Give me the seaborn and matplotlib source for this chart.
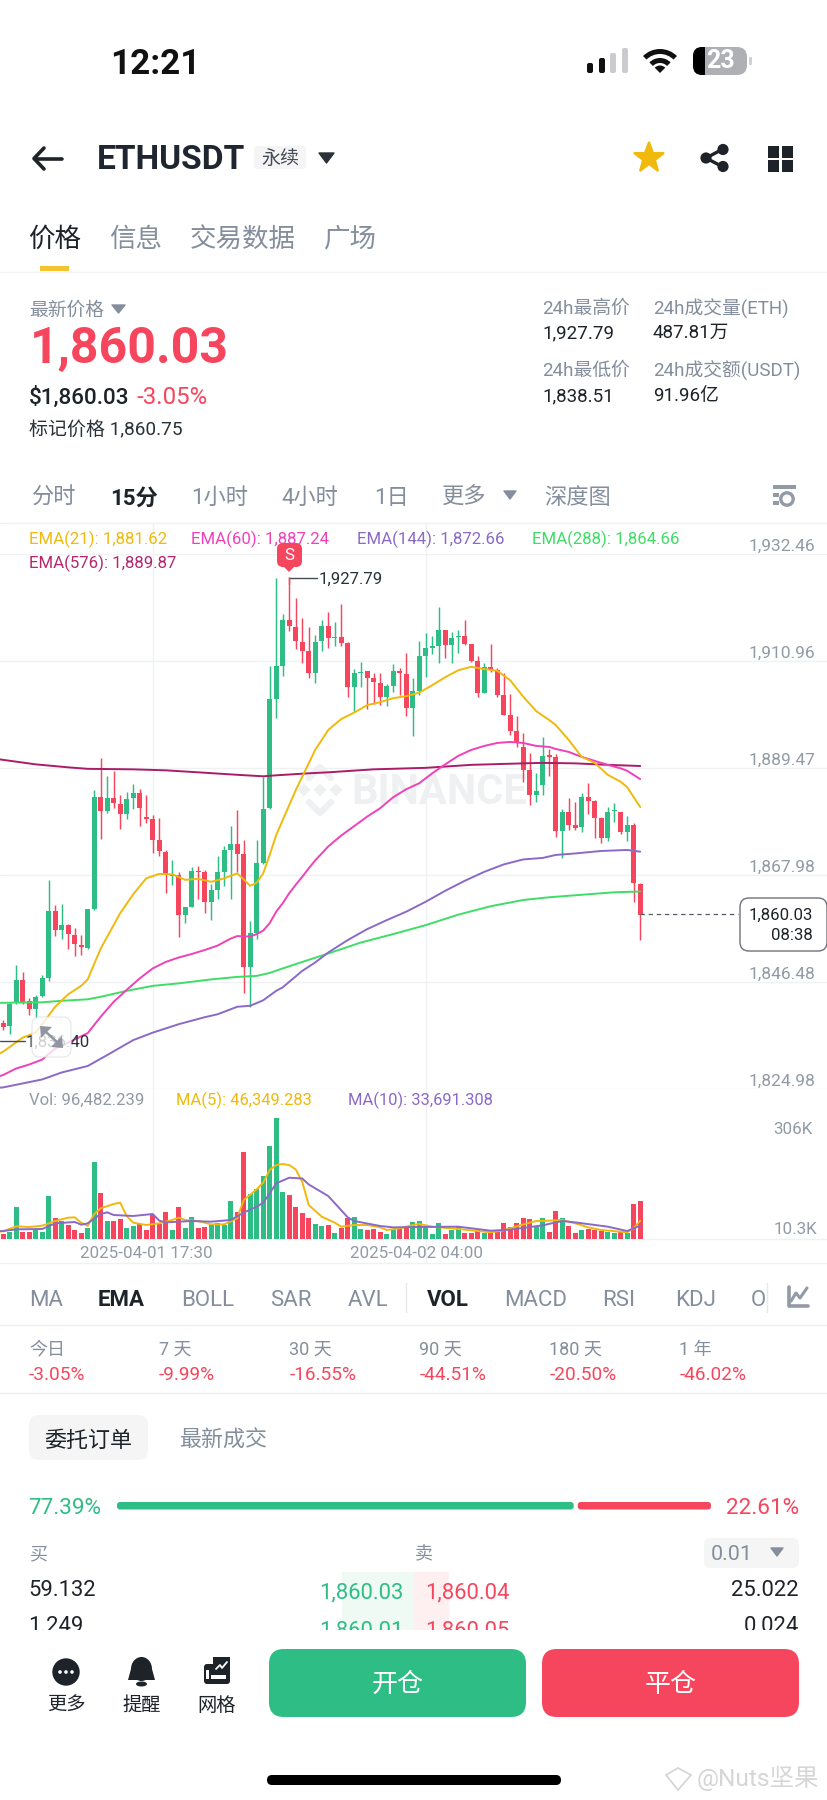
"""
ETHUSDT perpetual 15m chart screen, candles with EMA lines, volume pane and app chrome.
"""

import matplotlib
matplotlib.use("Agg")
import matplotlib.pyplot as plt
from matplotlib.patches import Circle, Ellipse, FancyBboxPatch, Polygon, Rectangle, Wedge
import pandas as pd
import seaborn as sns

W, H = 828, 1800

GREEN = "#2EBD85"
RED = "#F6465D"
DARK = "#1E2329"
GRAY = "#848E9C"
AXIS_GRAY = "#929AA5"
GRID = "#EFF1F3"

# 15 minute candles
opens = [1838.3, 1837.6, 1842.5, 1846.9, 1842.6, 1841.0, 1843.6, 1847.2, 1860.8, 1856.9,
         1857.9, 1855.9, 1854.0, 1853.4, 1861.1, 1883.7, 1880.8, 1883.4, 1882.3, 1880.3,
         1883.4, 1884.5, 1879.6, 1879.2, 1875.0, 1872.5, 1867.8, 1868.0, 1859.9, 1861.6,
         1868.8, 1868.6, 1862.6, 1865.0, 1868.6, 1873.0, 1874.3, 1872.2, 1849.4, 1856.3,
         1870.3, 1881.5, 1903.3, 1910.0, 1919.3, 1917.7, 1914.8, 1913.0, 1908.5, 1915.0,
         1917.9, 1915.6, 1915.8, 1914.5, 1905.8, 1908.6, 1909.0, 1907.5, 1906.6, 1903.8,
         1906.0, 1909.0, 1908.3, 1901.6, 1904.9, 1912.0, 1913.5, 1914.0, 1917.2, 1914.2,
         1915.7, 1916.0, 1914.4, 1911.0, 1904.5, 1909.8, 1909.2, 1904.1, 1900.1, 1896.9,
         1893.7, 1889.1, 1884.0, 1886.0, 1892.1, 1891.7, 1876.9, 1880.7, 1878.0, 1877.7,
         1883.6, 1882.9, 1879.5, 1875.5, 1880.8, 1880.6, 1876.7, 1878.1, 1866.1]
highs = [1838.8, 1842.5, 1849.9, 1848.5, 1843.2, 1843.9, 1847.9, 1867.0, 1862.0, 1862.1,
         1858.1, 1857.3, 1855.9, 1861.1, 1885.0, 1891.4, 1887.8, 1888.9, 1884.0, 1884.7,
         1886.2, 1885.2, 1884.0, 1880.0, 1879.4, 1872.9, 1871.0, 1868.6, 1861.6, 1869.6,
         1869.8, 1869.0, 1866.1, 1871.8, 1873.7, 1877.8, 1881.0, 1875.0, 1858.7, 1875.0,
         1887.7, 1910.0, 1927.6, 1920.5, 1927.79, 1923.6, 1919.7, 1917.7, 1916.2, 1919.3,
         1920.9, 1918.7, 1922.4, 1914.8, 1909.3, 1910.7, 1909.0, 1908.5, 1908.5, 1906.3,
         1910.4, 1909.6, 1912.5, 1907.5, 1915.0, 1916.5, 1916.0, 1921.9, 1917.2, 1916.7,
         1917.1, 1919.2, 1914.4, 1912.0, 1910.5, 1914.3, 1909.5, 1908.5, 1904.3, 1899.9,
         1896.4, 1892.4, 1888.4, 1895.7, 1893.2, 1892.3, 1881.2, 1883.4, 1882.7, 1884.5,
         1886.4, 1883.0, 1879.7, 1881.7, 1882.4, 1880.7, 1879.8, 1878.5, 1866.4]
lows = [1836.8, 1836.1, 1842.0, 1842.0, 1839.8, 1839.2, 1843.4, 1846.7, 1855.7, 1855.1,
        1853.2, 1851.6, 1851.8, 1853.2, 1860.9, 1875.2, 1880.4, 1881.5, 1877.2, 1879.2,
        1881.3, 1877.8, 1878.4, 1872.3, 1871.7, 1864.3, 1866.0, 1855.6, 1858.3, 1861.5,
        1863.1, 1860.3, 1858.9, 1863.1, 1865.8, 1863.1, 1868.6, 1844.2, 1841.4, 1855.2,
        1870.2, 1881.3, 1899.6, 1907.9, 1916.9, 1913.3, 1910.6, 1907.5, 1906.6, 1913.0,
        1913.6, 1914.0, 1914.0, 1903.8, 1900.8, 1905.8, 1901.4, 1902.4, 1902.1, 1902.0,
        1904.7, 1904.1, 1900.0, 1895.9, 1904.1, 1907.8, 1912.4, 1910.6, 1911.6, 1910.6,
        1912.5, 1914.2, 1910.8, 1903.8, 1904.5, 1908.8, 1903.8, 1900.1, 1896.1, 1893.6,
        1886.7, 1882.0, 1882.7, 1884.0, 1887.9, 1875.7, 1871.4, 1877.1, 1877.1, 1876.7,
        1880.3, 1875.5, 1874.5, 1874.9, 1878.7, 1876.2, 1874.8, 1862.6, 1855.0]
closes = [1837.5, 1842.0, 1846.9, 1842.5, 1841.0, 1843.5, 1847.2, 1860.8, 1856.9, 1857.9,
          1856.1, 1854.1, 1853.5, 1861.1, 1883.7, 1880.8, 1883.4, 1882.5, 1880.3, 1883.3,
          1884.4, 1881.4, 1879.2, 1875.0, 1872.7, 1868.2, 1868.2, 1859.9, 1861.5, 1868.8,
          1868.6, 1862.6, 1865.0, 1868.6, 1873.0, 1874.3, 1872.2, 1849.4, 1856.3, 1870.3,
          1881.3, 1903.3, 1910.0, 1919.3, 1917.9, 1915.0, 1913.0, 1908.5, 1914.8, 1917.9,
          1915.6, 1915.8, 1914.5, 1905.8, 1908.5, 1908.8, 1907.6, 1906.7, 1903.8, 1906.0,
          1909.0, 1908.5, 1901.6, 1904.9, 1912.0, 1913.5, 1914.0, 1917.2, 1914.2, 1915.5,
          1916.0, 1914.4, 1911.0, 1904.5, 1909.8, 1909.2, 1904.1, 1900.1, 1896.9, 1894.4,
          1889.1, 1884.0, 1884.9, 1891.9, 1891.7, 1876.9, 1880.7, 1878.1, 1877.5, 1883.6,
          1882.9, 1879.5, 1875.5, 1880.7, 1881.0, 1876.7, 1878.1, 1866.3, 1860.03]

volumes = [12.6, 18.5, 81.8, 16.9, 16.9, 22.8, 18.5, 110, 53, 45.5,
           34.6, 22.8, 16, 28.7, 195.6, 117, 45.5, 46.4, 49.7, 28.7,
           32, 38, 22.8, 60.7, 38, 69, 23.6, 80, 28.7, 56.5,
           28.7, 30.3, 34.6, 41.3, 35.4, 97, 68.3, 220, 113, 126.5,
           160, 235, 305.2, 118, 111, 81.8, 65.8, 53, 38, 32,
           35.4, 16, 28.7, 52.3, 54.8, 24.4, 21.9, 25.3, 18.5, 12.6,
           24.4, 31.2, 27, 43.8, 45.5, 29.5, 11.8, 39.6, 12.6, 22.8,
           29.5, 16, 16, 22.8, 16, 18.5, 16.9, 41.3, 31.2, 40.5,
           54, 50.6, 32.9, 52.3, 18.5, 70.8, 52.3, 32.9, 16, 22.8,
           25.3, 22.8, 20.2, 18.5, 16, 16.9, 16, 88.5, 96.5]

# the lines run on past the left edge of the chart, hence index -1
ema21_idx = [-1, 0, 3, 5, 6, 8, 10, 12, 13, 15, 18, 20, 22, 24, 26, 28, 30, 32, 34, 36, 37, 38, 39, 40, 41, 42,
             43, 44, 45, 46, 48, 50, 52, 54, 56, 58, 60, 62, 64, 66, 68, 70, 72, 74, 76, 78, 80, 82, 84,
             85, 87, 89, 91, 93, 95, 96, 98]
ema21 = [1831.8, 1832.5, 1835.3, 1836.3, 1838.0, 1841.5, 1844.0, 1845.7, 1847.0, 1853.2, 1860.3, 1864.1, 1867.3,
         1868.2, 1868.1, 1867.0, 1867.2, 1866.6, 1867.3, 1868.3, 1867.1, 1865.8, 1866.4, 1868.3, 1872.0, 1876.0,
         1879.0, 1882.0, 1885.0, 1887.7, 1893.1, 1897.1, 1899.3, 1900.6, 1902.1, 1902.7, 1903.5, 1903.9, 1904.6,
         1906.1, 1907.7, 1909.1, 1909.8, 1909.35, 1909.0, 1907.1, 1903.8, 1900.9, 1899.1,
         1898.1, 1895.1, 1891.7, 1890.5, 1888.1, 1886.7, 1885.6, 1881.62]

ema60_idx = [-1, 0, 2, 4, 6, 8, 10, 13, 15, 17, 19, 21, 23, 25, 27, 29, 31, 33, 35, 36, 38, 39, 40, 41, 42,
             43, 44, 45, 46, 47, 48, 50, 52, 54, 56, 58, 60, 62, 64, 66, 68, 70, 72, 74, 76, 78, 80, 82, 84,
             85, 87, 89, 91, 93, 95, 96, 98]
ema60 = [1827.4, 1827.8, 1829.1, 1829.9, 1830.9, 1833.1, 1834.3, 1836.2, 1839.5, 1842.5, 1844.9, 1847.2, 1849.2,
         1850.5, 1851.4, 1852.1, 1852.9, 1853.8, 1855.2, 1855.7, 1855.6, 1856.1, 1856.8, 1858.3, 1860.6,
         1862.3, 1864.3, 1866.0, 1867.6, 1869.3, 1870.9, 1873.7, 1875.9, 1877.8, 1879.7, 1881.4, 1883.6, 1885.2,
         1886.4, 1888.4, 1890.2, 1891.9, 1893.1, 1893.9, 1894.5, 1894.7, 1894.5, 1893.9, 1893.7,
         1893.3, 1892.7, 1891.7, 1890.9, 1890.1, 1889.4, 1888.9, 1887.24]

ema144_idx = [-1, 0, 3, 6, 9, 13, 16, 20, 23, 27, 31, 33, 36, 38, 40, 42, 43, 44, 46, 48, 50, 53, 56, 59, 62, 65,
              68, 71, 74, 77, 80, 83, 85, 88, 92, 96, 98]
ema144 = [1825.2, 1825.3, 1826.1, 1826.9, 1828.3, 1829.6, 1831.8, 1834.8, 1836.3, 1838.0, 1839.4, 1840.0, 1841.5,
          1841.7, 1842.8, 1844.7, 1845.4, 1846.5, 1848.7, 1850.4, 1852.4, 1854.9, 1857.1, 1858.9, 1860.6, 1862.6,
          1864.8, 1866.8, 1868.6, 1870.1, 1871.1, 1871.4, 1872.0, 1872.3, 1872.8, 1873.0, 1872.66]

ema288_idx = [-1, 0, 6, 9, 13, 15, 19, 23, 27, 32, 36, 39, 41, 43, 46, 50, 55, 60, 65, 70, 75, 80, 84, 86, 90, 94, 98]
ema288 = [1842.3, 1842.3, 1842.4, 1842.7, 1843.0, 1843.5, 1844.7, 1845.7, 1846.2, 1847.0, 1847.5, 1847.7, 1848.3,
          1849.2, 1850.5, 1852.2, 1854.4, 1856.1, 1857.9, 1860.0, 1861.7, 1862.95, 1863.5, 1863.7, 1864.1, 1864.5,
          1864.66]

ema576_idx = [-1, 0, 5, 10, 13, 20, 25, 30, 36, 40, 42, 47, 50, 57, 65, 72, 80, 83, 88, 93, 98]
ema576 = [1891.3, 1891.1, 1890.2, 1889.6, 1889.3, 1889.2, 1889.0, 1888.6, 1888.1, 1887.8, 1888.0, 1888.4, 1888.6,
          1889.2, 1889.5, 1890.1, 1890.4, 1890.5, 1890.4, 1890.1, 1889.87]

ma5_idx = [-1, 0, 2, 4, 6, 8, 10, 11, 12, 13, 14, 15, 17, 18, 19, 20, 22, 24, 26, 27, 28, 30, 32, 34, 36, 37, 39,
           40, 41, 42, 43, 44, 45, 46, 47, 49, 51, 52, 54, 56, 58, 59, 61, 63, 64, 66, 70, 75, 77, 80, 82, 84,
           86, 88, 90, 92, 96, 97, 98]
ma5 = [18.5, 19.4, 32, 30.3, 33.7, 45.5, 54, 54.8, 41.3, 32.9, 63.2, 77.6, 88.5, 91.9, 58.2, 41.3, 35.4, 39.6, 48,
       54, 48, 45.5, 37, 37, 52.3, 98.6, 125.6, 142.5, 174.5, 187, 189.7, 187, 176, 145, 86, 56.5, 41.3, 31.2,
       35.4, 35.4, 29.5, 22.8, 27, 35.4, 37.9, 31.2, 25.3, 16.9, 21.9, 37, 45.5, 46.4, 48, 39.6, 29.5, 22.8,
       16.9, 27, 46.35]

ma10_idx = [-1, 0, 2, 6, 8, 11, 12, 13, 15, 16, 17, 20, 23, 24, 25, 29, 32, 35, 37, 39, 40, 41, 42, 44, 46, 47, 50,
            53, 54, 58, 60, 64, 70, 75, 78, 83, 86, 88, 93, 96, 98]
ma10 = [19.5, 20.2, 24.4, 25.3, 39.6, 43, 36.2, 39.6, 63.2, 67.4, 60.7, 58.2, 63.2, 46.4, 42, 45.5, 43.8, 48, 66.6,
        81.8, 91.9, 115.5, 140.8, 155, 153, 138, 108.7, 54.8, 45.5, 32.9, 29.5, 30.3, 31.2, 21, 23.6, 34.6,
        45.5, 42, 31.2, 20.2, 33.69]

price_ticks = [1932.46, 1910.96, 1889.47, 1867.98, 1846.48, 1824.98]
time_ticks = [23, 65]
time_labels = ["2025-04-01 17:30", "2025-04-02 04:00"]
bid_share, ask_share = 77.39, 22.61

period_names = ["今日", "7 天", "30 天", "90 天", "180 天", "1 年"]
period_changes = ["-3.05%", "-9.99%", "-16.55%", "-44.51%", "-20.50%", "-46.02%"]

sns.set_theme(style="white")
plt.rcParams["font.family"] = ["Roboto", "Noto Sans CJK SC", "DejaVu Sans"]

fig = plt.figure(figsize=(W / 100, H / 100), dpi=100, facecolor="white")


def px_axes(x0, y0, x1, y1, zorder):
    ax = fig.add_axes([x0 / W, 1 - y1 / H, (x1 - x0) / W, (y1 - y0) / H], zorder=zorder)
    ax.patch.set_visible(False)
    for side in ax.spines.values():
        side.set_visible(False)
    return ax


# candle index <-> pixel: one candle every 6.5 px
x_limits = ((0 - 3.2) / 6.5, (W - 3.2) / 6.5)

ax_bg = px_axes(0, 523, W, 1263, -1)
ui = px_axes(0, 0, W, H, 0)
ax_price = px_axes(0, 554, W, 1089, 1)
ax_vol = px_axes(0, 1118, W, 1239, 1)
over = px_axes(0, 0, W, H, 5)
for a in (ui, over):
    a.set_xlim(0, W)
    a.set_ylim(H, 0)
    a.axis("off")


def txt(x, y, s, size, color=DARK, ha="left", weight="normal", ax=None, z=4, **kw):
    return (ax or ui).text(x, y, s, fontsize=size * 0.72, color=color, ha=ha, va="center",
                           fontweight=weight, zorder=z, **kw)


def rbox(x0, y0, x1, y1, r, color, ax=None, z=1, **kw):
    p = FancyBboxPatch((x0 + r, y0 + r), x1 - x0 - 2 * r, y1 - y0 - 2 * r,
                       boxstyle=f"round,pad={r},rounding_size={r}", fc=color, ec=kw.pop("ec", "none"),
                       zorder=z, **kw)
    (ax or ui).add_patch(p)
    return p


def caret(x0, x1, y0, y1, color, ax=None):
    (ax or ui).add_patch(Polygon([(x0, y0), (x1, y0), ((x0 + x1) / 2, y1)], closed=True, fc=color, ec=color,
                                 lw=1, joinstyle="round", zorder=3))


# --- chart background grid
ax_bg.set_xlim(*x_limits)
ax_bg.set_ylim(0, 1)
ax_bg.set_yticks([])
ax_bg.set_xticks(time_ticks)
ax_bg.set_xticklabels([])
ax_bg.tick_params(axis="x", length=0)
ax_bg.grid(axis="x", color=GRID, lw=1)
ax_bg.set_axisbelow(True)
txt(80, 1254, time_labels[0], 17, AXIS_GRAY)
txt(350, 1254, time_labels[1], 17, AXIS_GRAY)

# --- candles
df = pd.DataFrame({"i": range(len(closes)), "open": opens, "high": highs, "low": lows, "close": closes,
                   "vol": volumes})
df["side"] = ["up" if c >= o else "down" for o, c in zip(df["open"], df["close"])]
palette = {"up": GREEN, "down": RED}
colors = df["side"].map(palette)

ax_price.vlines(df["i"], df["low"], df["high"], colors=colors, lw=1.05, zorder=2)
ax_price.bar(df["i"], (df["close"] - df["open"]).abs().clip(lower=0.25),
             bottom=df[["open", "close"]].min(axis=1), width=0.72, color=colors, linewidth=0, zorder=2)

ema_lines = [(ema576_idx, ema576, "#A91C68"), (ema288_idx, ema288, "#3FDD66"), (ema144_idx, ema144, "#8B69C7"),
             (ema60_idx, ema60, "#F041B8"), (ema21_idx, ema21, "#F0B90B")]
for idx, vals, col in ema_lines:
    sns.lineplot(x=idx, y=vals, color=col, linewidth=1.4, ax=ax_price, zorder=3, errorbar=None)

ax_price.set_xlim(*x_limits)
ax_price.set_ylim(price_ticks[-1], price_ticks[0])
ax_price.set_xticks([])
ax_price.set_xlabel("")
ax_price.yaxis.tick_right()
ax_price.set_yticks(price_ticks)
ax_price.set_yticklabels([f"{p:,.2f}" for p in price_ticks], fontsize=17.4 * 0.72, color=AXIS_GRAY)
ax_price.tick_params(axis="y", length=0, pad=-9.4)
for lab in ax_price.get_yticklabels():
    lab.set_horizontalalignment("right")
    lab.set_verticalalignment("bottom")
ax_price.grid(axis="y", color=GRID, lw=1)
ax_price.set_axisbelow(True)

# --- volume pane
sns.barplot(data=df, x="i", y="vol", hue="side", palette=palette, native_scale=True, dodge=False, width=0.72,
            legend=False, saturation=1, linewidth=0, ax=ax_vol)
sns.lineplot(x=ma5_idx, y=ma5, color="#F0B90B", linewidth=1.4, ax=ax_vol, zorder=3, errorbar=None)
sns.lineplot(x=ma10_idx, y=ma10, color="#8B69C7", linewidth=1.4, ax=ax_vol, zorder=3, errorbar=None)
ax_vol.set_xlim(*x_limits)
ax_vol.set_ylim(0, 306)
ax_vol.set_xticks([])
ax_vol.set_yticks([])
ax_vol.set_xlabel("")
ax_vol.set_ylabel("")
ui.plot([0, W], [1239, 1239], color=GRID, lw=1, zorder=0)

# --- status bar
txt(155.5, 64, "12:21", 35, "#111111", ha="center", weight="bold")
for x0, top, col in [(587, 63, "#111111"), (599, 58, "#111111"), (610, 53, "#C9CBCF"), (622, 48, "#C9CBCF")]:
    rbox(x0, top, x0 + 6, 73, 2, col)
for r, w in [(24, 5), (15, 5)]:
    ui.add_patch(Wedge((660, 73), r, 225, 315, width=w, fc="#111111", ec="none"))
ui.add_patch(Wedge((660, 73), 7.5, 225, 315, fc="#111111", ec="none"))
rbox(693, 47, 747, 75, 10, "#AEB0B4")
rbox(693, 47, 712, 75, 9, "#000000", z=1.1)
ui.add_patch(Rectangle((705, 47), 10, 28, fc="#AEB0B4", ec="none", zorder=1.2))
rbox(749, 57, 752, 65, 1, "#D0D1D4")
txt(721, 61, "23", 25, "white", ha="center", weight="bold")

# --- header
ui.plot([44, 34, 44], [148, 158.5, 169], color=DARK, lw=2.6, solid_capstyle="round", solid_joinstyle="round")
ui.plot([35, 62], [158.5, 158.5], color=DARK, lw=2.6, solid_capstyle="round")
txt(97, 160, "ETHUSDT", 33.5, "#202630", weight="bold")
rbox(254, 146, 306, 169, 4, "#F5F5F5")
txt(280, 159, "永续", 19, "#474D57", ha="center")
caret(319, 334, 153, 163, "#2B3139")
ui.plot(649, 158, marker="*", ms=22.5, color="#F0B90B", mec="#F0B90B", mew=1.5, zorder=3)
ui.plot([723, 706, 723], [149, 158, 167], color=DARK, lw=2.4)
for cx, cy in [(723, 149.5), (706, 158), (723, 166.5)]:
    ui.add_patch(Circle((cx, cy), 5.6, fc=DARK, ec="none", zorder=3))
for x0 in (768, 782):
    for y0 in (146, 160):
        ui.add_patch(Rectangle((x0, y0), 11.5, 11.5, fc="#1E2329", ec="none"))

# --- main tabs
txt(28, 239, "价格", 26.5, "#1E2329", weight="medium")
txt(109, 239, "信息", 26.5, GRAY)
txt(190, 239, "交易数据", 26.5, GRAY)
txt(324, 239, "广场", 26.5, GRAY)
ui.add_patch(Rectangle((40, 266), 29, 5, fc="#F5C32F", ec="none", zorder=2))
ui.plot([0, W], [271.5, 271.5], color="#F3F4F5", lw=1)

# --- price block
txt(29, 311, "最新价格", 18.8, GRAY)
caret(112, 125, 305, 313, GRAY)
txt(30, 350, "1,860.03", 50, RED, weight="bold")
txt(29, 398, "$1,860.03", 22.5, DARK, weight="medium")
txt(137, 398, "-3.05%", 24, RED)
txt(29, 430, "标记价格 1,860.75", 19, "#2B3139")
txt(542, 309, "24h最高价", 18.8, GRAY)
txt(653, 309, "24h成交量(ETH)", 18.8, GRAY)
txt(542, 333, "1,927.79", 18.8, DARK)
txt(653, 333, "487.81万", 18.8, DARK)
txt(542, 371, "24h最低价", 18.8, GRAY)
txt(653, 371, "24h成交额(USDT)", 18.8, GRAY)
txt(542, 396, "1,838.51", 18.8, DARK)
txt(653, 396, "91.96亿", 18.8, DARK)

# --- interval tabs
for x0, s, col, wt in [(31, "分时", GRAY, "normal"), (110, "15分", DARK, "bold"), (191, "1小时", GRAY, "normal"),
                       (281, "4小时", GRAY, "normal"), (374, "1日", GRAY, "normal"), (442, "更多", GRAY, "normal"),
                       (544, "深度图", GRAY, "normal")]:
    txt(x0, 498.5, s, 22.3, col, weight=wt)
caret(504, 516, 491, 499, GRAY)
ui.add_patch(Rectangle((773, 485), 23, 4, fc=AXIS_GRAY, ec="none"))
ui.add_patch(Rectangle((773, 493), 6, 4, fc=AXIS_GRAY, ec="none"))
ui.add_patch(Rectangle((773, 501), 6, 4, fc=AXIS_GRAY, ec="none"))
ui.add_patch(Circle((787, 499), 6.2, fc="white", ec=AXIS_GRAY, lw=2.4))
ui.plot([0, W], [523, 523], color=GRID, lw=1)

# --- chart legends
txt(29, 539, "EMA(21): 1,881.62", 16.8, "#F0B90B")
txt(191, 539, "EMA(60): 1,887.24", 16.8, "#F041B8")
txt(357, 539, "EMA(144): 1,872.66", 16.8, "#8B69C7")
txt(532, 539, "EMA(288): 1,864.66", 16.8, "#3FDD66")
txt(29, 563, "EMA(576): 1,889.87", 16.8, "#B5266F")
txt(29, 1100, "Vol: 96,482.239", 16.8, AXIS_GRAY)
txt(176, 1100, "MA(5): 46,349.283", 16.5, "#F0B90B")
txt(348, 1100, "MA(10): 33,691.308", 16.5, "#8B69C7")
txt(813, 1129, "306K", 17, AXIS_GRAY, ha="right")
txt(817, 1229, "10.3K", 17, AXIS_GRAY, ha="right")

# --- watermark
for cx, cy, s in [(320, 790, 6.5), (304, 790, 6.5), (336, 790, 6.5)]:
    ui.add_patch(Polygon([(cx - s, cy), (cx, cy - s), (cx + s, cy), (cx, cy + s)], fc="#EEF0F2", ec="none"))
ui.plot([309, 320, 331], [778, 767, 778], color="#EEF0F2", lw=4.5)
ui.plot([309, 320, 331], [802, 813, 802], color="#EEF0F2", lw=4.5)
txt(351, 793, "BINANCE", 41.5, "#EEF0F2", weight="bold")

# --- markers over the chart
rbox(277, 543, 302, 567, 6, RED, ax=over)
over.add_patch(Polygon([(283, 566), (295, 566), (289, 572)], fc=RED, ec="none", zorder=1))
txt(289.5, 555.5, "S", 17, "white", ha="center", ax=over)
over.plot([289, 317], [578, 578], color="#474D57", lw=1)
over.plot([289, 289], [578, 584], color=RED, lw=1)
txt(319, 579, "1,927.79", 16.8, "#2B3139", ax=over)
over.plot([0, 25], [1040.7, 1040.7], color="#474D57", lw=1)
txt(26, 1042, "1,836.40", 16.8, "#2B3139", ax=over, z=1)
rbox(32, 1017, 71, 1057, 8, "white", ax=over, z=2, alpha=0.78, ec="#DDE0E3", lw=0.8)
over.plot([46, 57], [1032, 1042], color="#8F96A1", lw=1.8, zorder=3)
over.add_patch(Polygon([(40, 1026), (52, 1027), (41, 1038)], fc="#8F96A1", ec="none", zorder=3))
over.add_patch(Polygon([(63, 1048), (51, 1047), (62, 1036)], fc="#8F96A1", ec="none", zorder=3))
over.plot([640, 738], [914, 914], color="#555B63", lw=0.9, dashes=(3.5, 3))
rbox(740, 898, 827, 951, 9, "white", ax=over, ec="#6E7178", lw=1)
txt(813, 915, "1,860.03", 16.8, DARK, ha="right", ax=over)
txt(813, 936, "08:38", 16.8, DARK, ha="right", ax=over)

# --- indicator tabs
ui.plot([0, W], [1263, 1263], color=GRID, lw=1)
for x0, s, col, wt in [(29, "MA", GRAY, "normal"), (98, "EMA", DARK, "bold"), (181, "BOLL", GRAY, "normal"),
                       (270, "SAR", GRAY, "normal"), (348, "AVL", GRAY, "normal"), (427, "VOL", DARK, "bold"),
                       (504, "MACD", GRAY, "normal"), (602, "RSI", GRAY, "normal"), (675, "KDJ", GRAY, "normal"),
                       (751, "O", GRAY, "normal")]:
    txt(x0, 1300, s, 22.3, col, weight=wt)
ui.plot([406.5, 406.5], [1283, 1312], color="#E6E8EA", lw=1)
ui.add_patch(Rectangle((768, 1283), 60, 30, fc="white", ec="none", zorder=5))
ui.plot([767.5, 767.5], [1283, 1312], color="#E6E8EA", lw=1, zorder=6)
ui.plot([789, 789, 808], [1287, 1306, 1306], color=AXIS_GRAY, lw=2.6, zorder=6)
ui.plot([791, 796, 800, 807], [1301, 1293, 1298, 1288], color=AXIS_GRAY, lw=2.2, zorder=6)
ui.plot([0, W], [1325, 1325], color="#EFF0F1", lw=1)

# --- period changes
for k, (name, change) in enumerate(zip(period_names, period_changes)):
    x0 = 29 + 130.1 * k
    txt(x0, 1350, name, 18, GRAY)
    txt(x0, 1375, change, 19, RED)
ui.plot([0, W], [1393, 1393], color="#EBECEE", lw=1)

# --- order book
rbox(29, 1415, 148, 1460, 10, "#F5F5F5")
txt(44, 1441, "委托订单", 22, DARK, weight="medium")
txt(180, 1441, "最新成交", 22, GRAY, weight="medium")

bar_x0, bar_span = 117, 594
bid_end = bar_x0 + bar_span * bid_share / (bid_share + ask_share)
rbox(bar_x0, 1502, bid_end - 3, 1509.5, 3, GREEN)
rbox(bid_end + 1, 1502, bar_x0 + bar_span, 1509.5, 3, RED)
txt(28, 1508, f"{bid_share}%", 22.5, GREEN)
txt(799, 1508, f"{ask_share}%", 22.5, RED, ha="right")

txt(29, 1554, "买", 18, GRAY)
txt(415, 1554, "卖", 18, GRAY)
rbox(704, 1538, 799, 1568, 7, "#F5F5F5")
txt(711, 1555, "0.01", 21.5, GRAY)
caret(771, 783, 1548, 1556, GRAY)
ui.add_patch(Rectangle((342, 1572), 72, 58, fc="#EFFAF5", ec="none", zorder=1))
ui.add_patch(Rectangle((414, 1572), 35, 58, fc="#FEF0F1", ec="none", zorder=1))
txt(28, 1590, "59.132", 22, DARK, z=2)
txt(799, 1590, "25.022", 22, DARK, ha="right", z=2)
txt(319, 1593, "1,860.03", 22, GREEN, z=2)
txt(425, 1593, "1,860.04", 22, RED, z=2)
txt(28, 1627, "1.249", 22, DARK, z=2)
txt(799, 1627, "0.024", 22, DARK, ha="right", z=2)
txt(319, 1631, "1,860.01", 22, GREEN, z=2)
txt(425, 1631, "1,860.05", 22, RED, z=2)

# --- footer
ui.add_patch(Rectangle((0, 1630), W, H - 1630, fc="white", ec="none", zorder=2.5))
ui.add_patch(Circle((66, 1672), 13.7, fc=DARK, ec="none", zorder=3))
for dx in (-6, 0, 6):
    ui.add_patch(Circle((66 + dx, 1672), 1.8, fc="white", ec="none", zorder=3.5))
ui.add_patch(Ellipse((141.5, 1669), 21, 24, fc=DARK, ec="none", zorder=3))
ui.add_patch(Polygon([(131, 1669), (152, 1669), (155, 1680), (128, 1680)], fc=DARK, ec="none", zorder=3))
ui.add_patch(Ellipse((141.5, 1684), 11, 5, fc=DARK, ec="none", zorder=3))
rbox(204, 1664, 230, 1684, 3, DARK, z=3)
ui.add_patch(Polygon([(213, 1664), (213, 1657), (230, 1657), (230, 1668)], fc=DARK, ec="none", zorder=3))
ui.plot([216, 220, 222, 227], [1669, 1665, 1668, 1662], color="white", lw=1.3, zorder=3.5)
ui.add_patch(Rectangle((211, 1675), 15, 4, fc="white", ec="none", zorder=3.5))
ui.add_patch(Rectangle((206, 1670), 3, 9, fc="white", ec="none", zorder=3.5))
for cx, s in [(66, "更多"), (141.5, "提醒"), (216.5, "网格")]:
    txt(cx, 1706, s, 19.3, DARK, ha="center", z=3)
rbox(269, 1649, 526, 1717, 15, GREEN, z=3)
rbox(542, 1649, 799, 1717, 15, RED, z=3)
txt(398, 1685, "开仓", 26, "white", ha="center", z=4)
txt(670.5, 1685, "平仓", 26, "white", ha="center", z=4)
rbox(267, 1775, 561, 1785, 5, "#000000", z=3)
ui.add_patch(Polygon([(666, 1775), (678, 1768), (691, 1775), (678, 1790)], fc="none", ec="#D4D4D4", lw=1.2, zorder=3))
txt(697, 1778, "@Nuts坚果", 24.5, "#D6D6D6", z=4)

fig.savefig("out.png", dpi=100, facecolor="white")
